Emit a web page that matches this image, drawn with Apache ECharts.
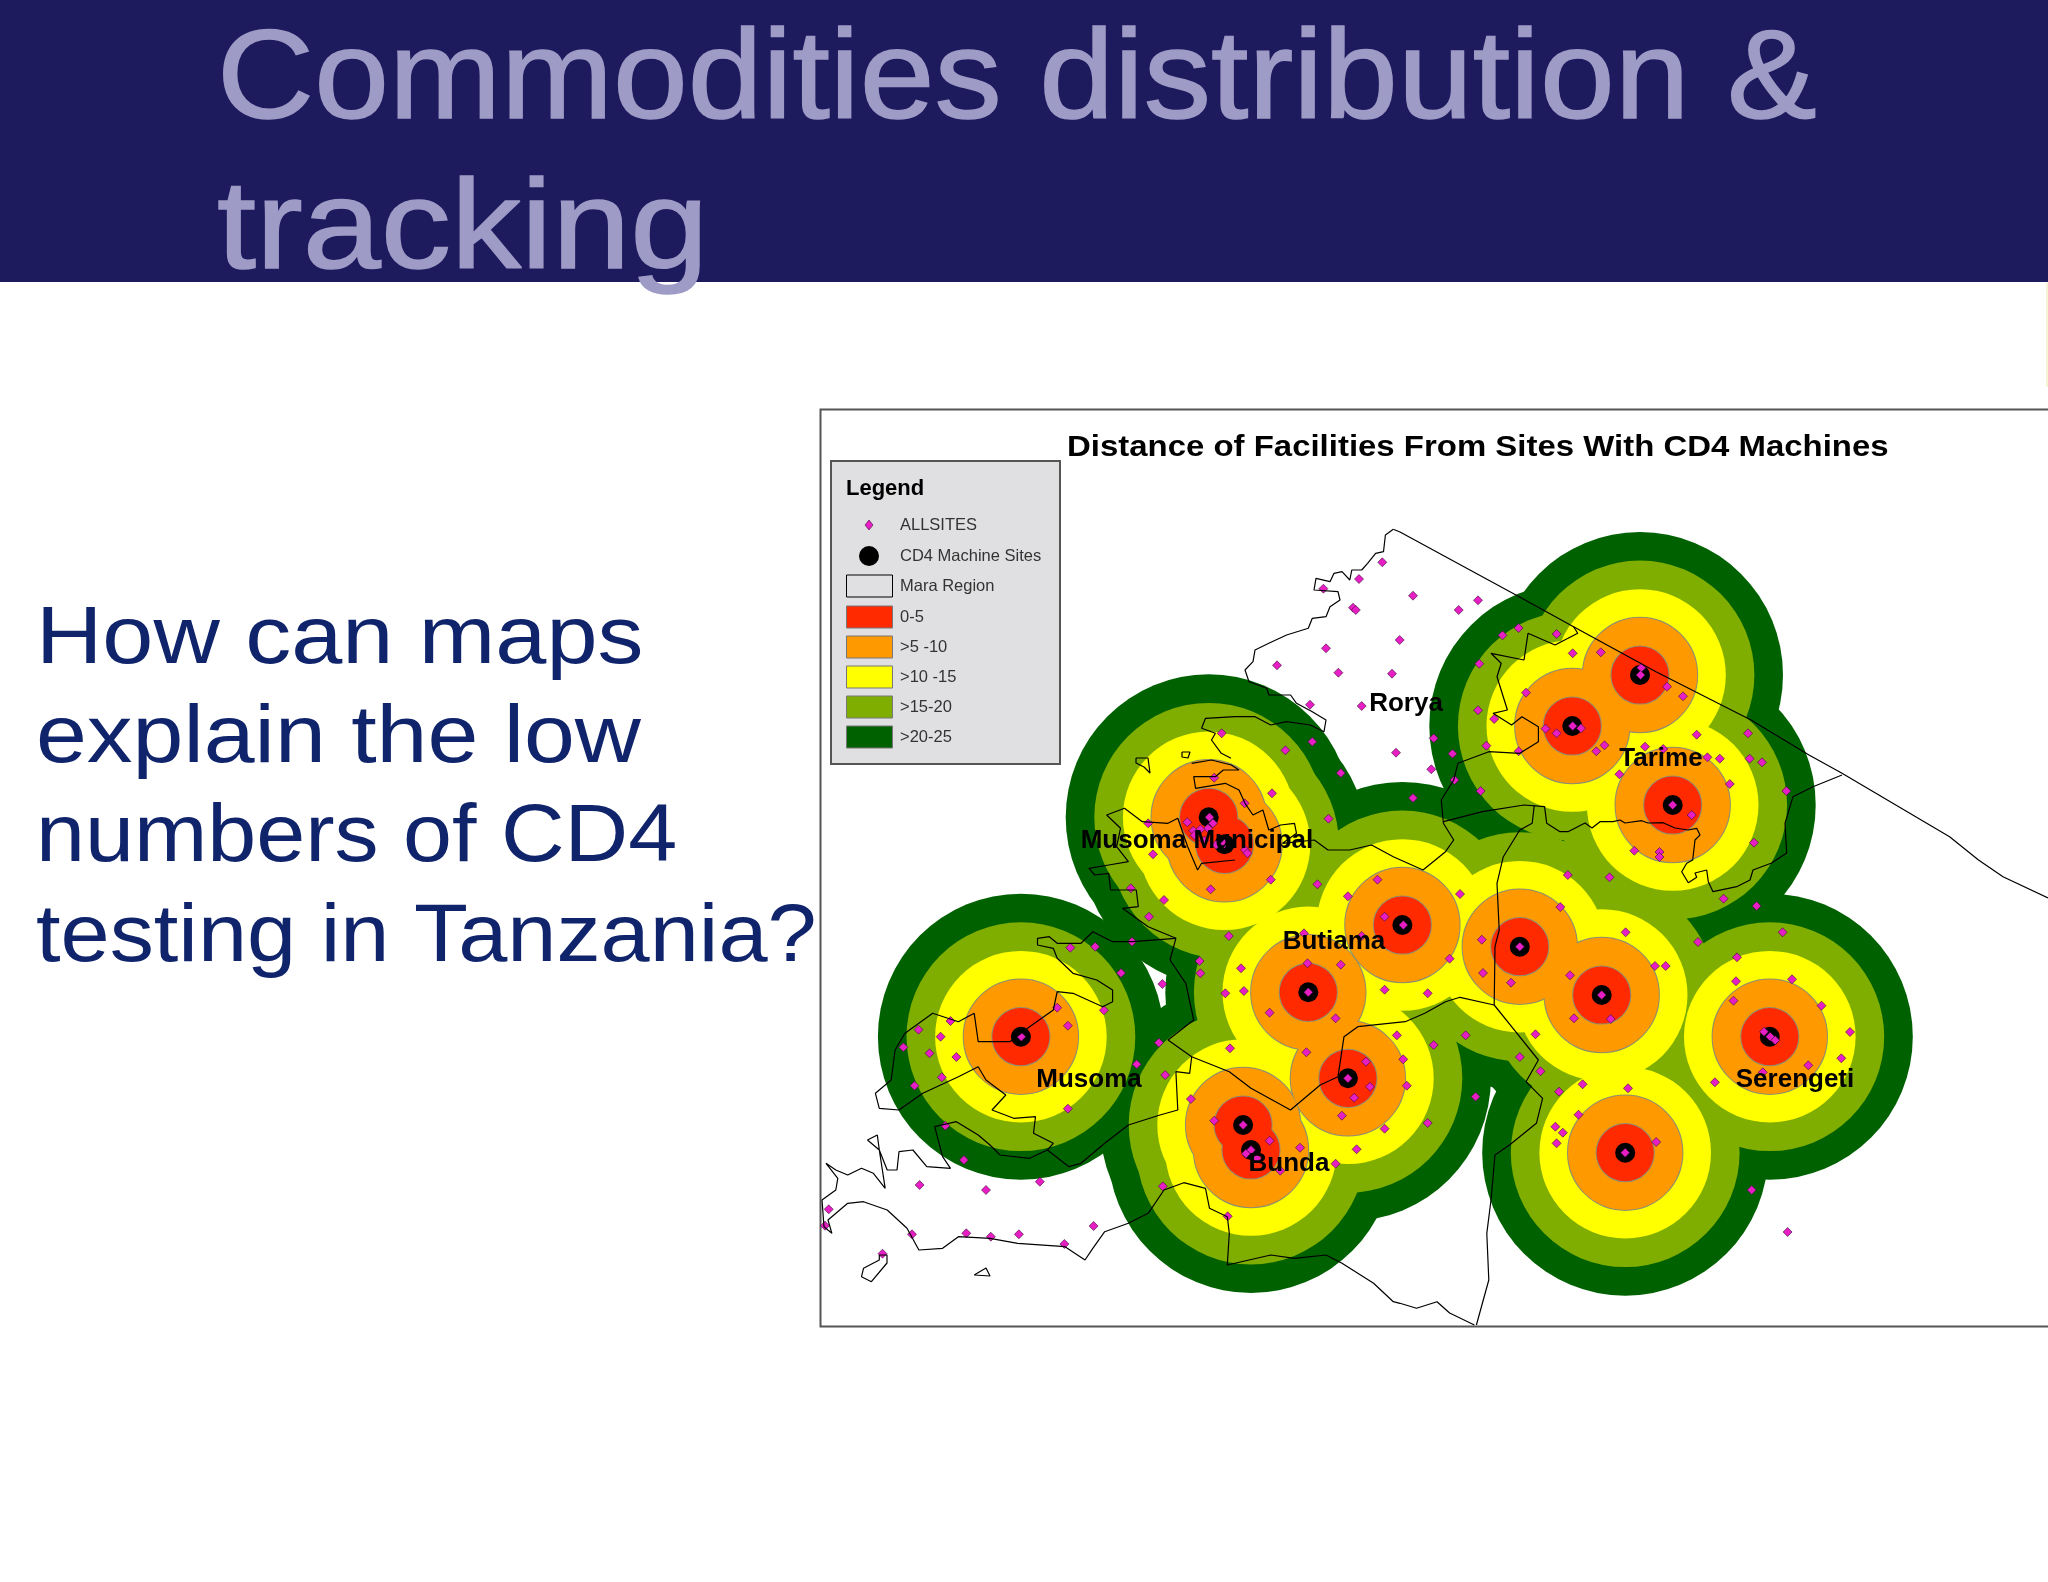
<!DOCTYPE html>
<html>
<head>
<meta charset="utf-8">
<title>Commodities distribution & tracking</title>
<script src="https://cdn.jsdelivr.net/npm/echarts@6/dist/echarts.min.js"></script>
<style>
  html, body { margin:0; padding:0; background:#fff; }
  #chart { width:2048px; height:1582px; }
</style>
</head>
<body>
<div id="chart"></div>
<script>
// ====== text ======
const slideTitle = ['Commodities distribution &', 'tracking'];
const slideText = ['How can maps', 'explain the low', 'numbers of CD4', 'testing in Tanzania?'];
const mapTitle = 'Distance of Facilities From Sites With CD4 Machines';
const legendTitle = 'Legend';
const legendLabels = ['ALLSITES', 'CD4 Machine Sites', 'Mara Region', '0-5', '>5 -10', '>10 -15', '>15-20', '>20-25'];

// ====== map data, in map units ======
const districtLabels = [
  ['Rorya', 1406, 704], ['Tarime', 1661, 759], ['Musoma Municipal', 1197, 841], ['Butiama', 1334, 942],
  ['Musoma', 1089, 1080], ['Bunda', 1289, 1164], ['Serengeti', 1795, 1080]
];

// distance bands in km, nearest first
const bandKm = [5, 10, 15, 20, 25];
const bandColors = ['#ff2a00', '#ff9900', '#ffff00', '#7fae00', '#006100'];

const cd4Sites = [
  [1208.7,817.3],[1224.5,844.3],[1640,675],[1572.3,726],[1672.7,805],[1402.4,925],[1519.8,946.7],[1601.7,995],
  [1308.3,992.3],[1347.9,1078.3],[1243.1,1125],[1251,1150],[1020.9,1036.7],[1769.8,1036.7],[1625.2,1152.7]
];

const allSites = [
  [1382.3,562.3],[1359,579],[1323.4,588.7],[1413,595.7],[1353,607.7],[1355.8,610],[1399.7,640],[1326,648.3],
  [1277,665.3],[1338.4,672.7],[1392,673.7],[1310,704.7],[1361.7,706],[1433.7,738.3],[1396,752.7],[1431.3,769.3],
  [1221.7,733.3],[1312.3,741.7],[1285.4,750.3],[1340.8,773],[1214.2,777.7],[1272,793.3],[1244.7,803.3],[1413,798],
  [1328.5,818.7],[1148.2,823.3],[1187.3,822.3],[1209.5,817.3],[1213,823.3],[1208,828.3],[1200.4,829.3],[1193.3,830.7],
  [1194.5,835.3],[1204.3,840.7],[1216.2,844.7],[1224.5,843.7],[1245,850],[1247.4,853.3],[1153,854.3],[1270.8,879.7],
  [1317.4,884.3],[1210.7,889.3],[1130.8,888.3],[1164,900],[1149,916.7],[1347.9,896.3],[1377.5,879.7],[1384.6,916.7],
  [1458.7,610],[1478,600.3],[1518.6,628],[1502.5,635.3],[1556.6,634],[1572.7,653.3],[1600.8,652.3],[1479.3,663.7],
  [1526,692.7],[1641.3,667.7],[1640.5,675],[1667,686.7],[1683,696.3],[1478,710.3],[1494.2,719],[1545.5,728.7],
  [1556.6,733.3],[1572.7,726],[1581,728.3],[1486.4,745.7],[1518.6,751.3],[1596.3,751.3],[1604.5,745.3],[1452.5,753.7],
  [1645,746.7],[1663.2,749],[1696.7,734.7],[1748,733.3],[1707.4,757.3],[1719.8,758.7],[1749.6,758.7],[1762,762.3],
  [1619.4,774.3],[1454.5,780],[1729.8,784],[1480.6,791],[1786.4,791],[1672.7,805],[1691.7,815],[1754,842.7],
  [1634.3,850.7],[1659.5,852],[1659.5,857],[1567.8,875],[1609.5,877.3],[1723.6,898.7],[1756.6,906],[1460,894],
  [1560.3,907],[1625.6,932.3],[1782.6,932.3],[1698,942],[1481.8,939.7],[1737,957.3],[1655,966],[1665.7,966],
  [1519.8,946.7],[1449.6,958.7],[1483,973],[1511,982.7],[1570,975.3],[1403.3,925],[1427.7,993.3],[1601.7,995],
  [1736,981.3],[1792,979.3],[1733.5,1000.7],[1821.5,1005.7],[1574,1018.3],[1610.7,1019],
  [1228.9,936],[1304,933.3],[1361.7,936],[1095.2,946.7],[1070.3,947.7],[1132,941.7],[1121,973],[1199.6,961],
  [1200.4,973.3],[1162.4,984],[1241,968.3],[1307.5,963.3],[1340.8,964.7],[1225.3,993.3],[1243.9,991],[1308.3,992.3],
  [1384.6,989.7],[1057.2,1007.7],[1103.9,1010.3],[950.5,1021],[1067.9,1025.7],[918.5,1029.7],[940.6,1036.7],[1021.3,1036.7],
  [903.4,1047.3],[929.5,1053.3],[956.4,1057],[1158.9,1042.7],[1269.6,1012.7],[1335.6,1018.3],[1396.9,1035.3],[1433.7,1045],
  [1230,1048.3],[1306.4,1052.3],[1366,1061.7],[1403.2,1059.3],[1136.7,1064.3],[1165.2,1075],[1347.9,1078.3],[1370,1086.7],
  [1406.8,1085.7],[941.8,1077.3],[914.5,1085.7],[1190.9,1099],[1354.2,1097.7],[1067.9,1108.7],[1214.2,1120.7],[1341.9,1115.7],
  [1243.1,1125],[1427.7,1123],[1384.6,1128.7],[945.3,1125.7],[1269.6,1140.7],[1300,1147.7],[1356.6,1149.3],[1251,1150],
  [1245.9,1153.7],[1256.9,1158.3],[963.9,1160],[1280.3,1170.7],[1335.6,1163.7],[1039.8,1181.7],[919.6,1185],[986,1190],
  [1162.8,1186.3],[1227.7,1216.3],[828.7,1209.3],[825,1225.7],[1093.6,1226],[912,1234.3],[966.3,1233.3],[1018.9,1234.3],
  [990.8,1236.7],[1064.4,1244],[882.5,1253.7],
  [1465.7,1035.3],[1535.5,1034.3],[1519.8,1057],[1540.5,1071.3],[1559,1091.7],[1582.6,1084.3],[1628,1088.3],[1475.6,1096.7],
  [1578.5,1114.7],[1555.4,1126.7],[1562.8,1132.7],[1556.6,1143.3],[1656.2,1142],[1625.2,1152.7],[1764,1031.7],[1770.2,1036.7],
  [1775.2,1040.3],[1850,1032],[1841.3,1058.3],[1808.3,1065.3],[1762.8,1072.3],[1714.9,1082.3],[1751.7,1190],[1787.6,1232]
];

// ====== boundaries ======
const northEastLine = [
  [1393.3,529.3],[1400,532],[1517.8,596],[1573.6,626.7],[1656,671.7],[1751,720],[1809,755],[1842,773.3],
  [1949.6,836.7],[1978.5,860],[2003,876.7],[2048,898]
];
const lakeShoreNorth = [
  [1393.3,529.3],[1385.4,535],[1383.5,551.7],[1375.6,553.3],[1367.6,563.3],[1361.7,570],[1351.8,570],[1349.8,580],
  [1342,571.7],[1334,573.3],[1330,581.7],[1316,578.3],[1314,590],[1338,591.7],[1340,600],[1330,606.7],[1326,616.7],
  [1312.3,618.3],[1308.3,628.3],[1286.6,635],[1268.8,643.3],[1255,650],[1253,661.7],[1245,670],[1249,681.7],
  [1266.8,688.3],[1268.8,695],[1290.6,695],[1296.5,703.3],[1312.3,711.7],[1326,720],[1324,731.7],[1310.3,725],
  [1286.6,721.7],[1270.8,725],[1255,716.7],[1235,716.7],[1205.5,718.3],[1201.6,728.3],[1215.4,733.3],[1211.5,740],
  [1221.3,753.3],[1231,758.3]
];
const municipalLine = [
  [1191.7,763.3],[1211.5,760],[1231.2,765],[1239,770],[1223.3,770],[1215.4,776.7],[1193.7,776.7],[1195.6,788.3],
  [1225.3,783.3],[1239,790],[1245,803.3],[1253,815],[1262.9,810],[1268.8,830],[1280.7,825],[1294.5,823.3],[1296.5,833.3],
  [1282.6,843.3],[1314.3,840],[1328,850],[1349.8,850],[1371.6,845],[1393.3,856.7],[1423,870],[1445.5,851.7],[1453.7,840],
  [1443.4,823.3],[1441.3,800],[1453.7,780],[1457.9,763.3],[1488.8,751.7],[1519.8,753.3],[1538.4,741.7],[1538.4,726.7],
  [1521.9,716.7],[1511.6,725],[1493,713.3],[1507.4,710],[1497,676.7],[1501.2,663.3],[1491,653.3],[1524,660],[1528,633.3],
  [1555,645],[1577.7,633.3],[1573.6,626.7]
];
const tarimeSouthLine = [
  [1443.4,821.7],[1482.6,811.7],[1524,805],[1544.6,806.7],[1546.7,823.3],[1560,831.7],[1568,831.7],[1585,823],[1592,828],
  [1600,821.7],[1613,821.7],[1620,820],[1625,823],[1641.7,820.7],[1648,823],[1663,822.7],[1675,828],[1688,830],[1696.7,828.3],
  [1700,835],[1695,840],[1692.7,860],[1686.7,863.3],[1681.7,871.7],[1688.3,882.7],[1696.7,877.3],[1695,873],[1706.7,870],
  [1708.3,881.7],[1713,891.7],[1736.7,886.7],[1750,880],[1753,870],[1771.7,863],[1786.7,853],[1785,823.3],[1790,806.7],
  [1793,796.7],[1813,786.7],[1842,775]
];
const serengetiWestLine = [
  [1534.3,805],[1532.2,823.3],[1519.8,830],[1503.3,856.7],[1497,883.3],[1499.2,930],[1495,946.7],[1494.2,1005],
  [1511.6,1026.7],[1538.4,1060],[1526,1081.7],[1542.6,1098.3],[1536.4,1123.3],[1509.5,1145],[1495,1155],[1491,1200],
  [1486.8,1233.3],[1488.8,1280],[1476.4,1325]
];
const butiamaSouthLine = [
  [1191.7,1056.7],[1229.3,1071.7],[1251,1088.3],[1290.5,1110],[1320.2,1085],[1338,1076.7],[1344,1036.7],[1357.8,1026.7],
  [1405.2,1021.7],[1424.8,1013.3],[1445.5,1001.7],[1460,997.3],[1494.2,1005]
];
const lakeShoreSouth = [
  [1474.4,1325],[1449.6,1313],[1437,1301.7],[1416.5,1308.3],[1400,1303.3],[1393.3,1301.7],[1373.6,1283.3],[1342,1263.3],
  [1326,1255],[1294.5,1258.3],[1270.8,1255],[1227.3,1265],[1229.3,1233.3],[1227.3,1216.7],[1209.5,1208.3],[1205.5,1188.3],
  [1183.8,1182.7],[1164,1190],[1148.2,1213.3],[1128.4,1223.3],[1104.7,1231.7],[1092.8,1248.3],[1085,1260],[1065,1246.7],
  [1017.7,1243.3],[990,1238.3],[958.4,1236.7],[942.6,1248.3],[918.9,1250],[907,1228.3],[887.2,1210],[863.5,1201.7],
  [847.7,1203.3],[828,1220],[831.9,1233.3],[824,1226.7],[822,1200],[835.8,1190],[837.8,1178.3],[826,1163.3],[835.8,1170],
  [847.7,1175],[861.5,1168.3],[873.4,1173.3],[885.2,1188.3],[879.3,1150],[867.5,1140],[877.3,1135],[879.3,1150],[887.2,1170],
  [897,1170],[899,1151.7],[912.9,1150],[926.8,1166.7],[950.5,1168.3],[942.6,1156.7],[934.7,1126.7],[956.4,1121.7],
  [978.2,1135],[990,1145],[1000,1155],[1029.6,1158.3],[1047.4,1150],[1069,1166.7],[1081,1163.3],[1104.7,1143.3],
  [1128.4,1125],[1160,1115],[1177.8,1110],[1175.9,1071.7],[1189.7,1073.3],[1191.7,1056.7],[1168,1040],[1193.7,1020],
  [1185.8,983.3],[1170,960],[1175.9,938.3],[1148.2,926.7],[1122.5,908.3],[1138.3,906.7],[1136.3,890],[1110.6,890],
  [1108.7,873.3],[1094.8,875],[1088.9,868.3],[1108.7,865],[1128.4,861.7],[1116.6,846.7],[1120.5,828.3],[1106.7,815],
  [1124.5,808.3],[1142.3,821.7],[1168,823.3],[1177.8,818.3],[1187.7,846.7],[1197.6,870],[1201.6,863.3],[1235,860]
];
const musomaLine = [
  [1175.9,938.3],[1132.4,941.7],[1112.6,941.7],[1092.8,931.7],[1081,943.3],[1057.2,943.3],[1049.3,936.7],[1037.5,938.3],
  [1037.5,945],[1053.3,948.3],[1057.2,958.3],[1073,973.3],[1096.8,980],[1112.6,990],[1112.6,1001.7],[1102.7,1006.7],
  [1073,993.3],[1057.2,991.7],[1053.3,1010],[1029.6,1026.7],[1009.8,1041.7],[978.2,1041.7],[974.2,1013.3],[958.4,1021.7],
  [932.7,1013.3],[905,1033.3],[895.1,1050],[891.2,1080],[875.4,1093.3],[879.3,1108.3],[899,1110],[922.8,1093.3],
  [958.4,1076.7],[978.2,1066.7],[986,1080],[1005.8,1095],[992,1110],[1013.7,1118.3],[1035.5,1116.7],[1033.5,1133.3],
  [1053.3,1143.3],[1047.4,1150]
];
const islandA = [[879.3,1255],[887,1255],[887,1263],[871.4,1281.7],[861.5,1276.7],[863.5,1268.3],[879.3,1260],[879.3,1255]];
const islandB = [[974.2,1275],[986,1268],[990,1276],[974.2,1275]];
const islandC = [[1136,758],[1148,758],[1150,773],[1144,767],[1136,763],[1136,758]];
const islandD = [[1182,752],[1190,752],[1188,758],[1182,757],[1182,752]];
const boundaries = [
  northEastLine, lakeShoreNorth, municipalLine, tarimeSouthLine, serengetiWestLine, butiamaSouthLine,
  lakeShoreSouth, musomaLine, islandA, islandB, islandC, islandD
];

// ====== series ======
const PX_PER_KM = 5.72;

function bandLayer(km, color, border){
  const size = km * PX_PER_KM * 2;
  return {
    type:'scatter', data:cd4Sites, symbol:'circle', symbolSize:size, silent:true, clip:true,
    itemStyle:{ color, opacity:1, borderColor:border || color, borderWidth:border ? 2 : 0 }
  };
}

const series = [];
// far bands first so nearer ones paint over them
for(let i = bandKm.length - 1; i >= 0; i--){
  if(i < 2) series.push(bandLayer(bandKm[i], bandColors[i], '#8f8f70'));
  series.push(bandLayer(bandKm[i], bandColors[i]));
}
boundaries.forEach(b => series.push({
  type:'line', data:b, showSymbol:false, silent:true, clip:true,
  lineStyle:{ color:'#000', width:1.2 }
}));
series.push({
  type:'scatter', data:cd4Sites, symbol:'circle', symbolSize:20, silent:true,
  itemStyle:{ color:'#000', opacity:1 }
});
series.push({
  type:'scatter', data:allSites, symbol:'diamond', symbolSize:9, silent:true,
  itemStyle:{ color:'#e61ec4', opacity:1, borderColor:'#3a0a35', borderWidth:0.6 }
});
series.push({
  type:'scatter', data:districtLabels.map(d => ({ name:d[0], value:[d[1], d[2]] })), symbolSize:0, silent:true, z:6,
  itemStyle:{ opacity:1 },
  label:{
    show:true, position:'inside', formatter:'{b}', color:'#000', opacity:1,
    fontFamily:'Liberation Sans', fontWeight:'bold', fontSize:26
  }
});

// ====== slide furniture + legend ======
const graphics = [
  { type:'rect', shape:{ x:0, y:0, width:2048, height:282 }, style:{ fill:'#1e1a5e' }, z:0 },
  { type:'rect', shape:{ x:2046, y:283, width:2, height:104 }, style:{ fill:'#f5f5d5' }, z:0 },
  { type:'rect', shape:{ x:820.5, y:409.5, width:1230, height:917 }, style:{ fill:'none', stroke:'#555', lineWidth:2 }, z:0 },
  { type:'rect', shape:{ x:831, y:461, width:229, height:303 }, style:{ fill:'#e0e0e2', stroke:'#555', lineWidth:2 }, z:3 }
];
// the slide's face is wider than Liberation Sans, so each line is stretched to its measured width
const titleStretch = [1.059, 1.105];
slideTitle.forEach((t, i) => graphics.push({
  type:'text', z:10, x:217, y:146.5 + i * 150, scaleX:titleStretch[i],
  style:{ x:0, y:0, text:t, fill:'#9e9bc6', stroke:'#9e9bc6', lineWidth:1.5, verticalAlign:'bottom',
    font:'127px "Liberation Sans"' }
}));
const textStretch = [1.12, 1.115, 1.074, 1.077];
slideText.forEach((t, i) => graphics.push({
  type:'text', z:10, x:36, y:681 + i * 99.3, scaleX:textStretch[i],
  style:{ x:0, y:0, text:t, fill:'#10246c', verticalAlign:'bottom', font:'82px "Liberation Sans"' }
}));
graphics.push({ type:'text', z:5, x:1067, y:447.5, scaleX:1.098,
  style:{ x:0, y:0, text:mapTitle, fill:'#000', verticalAlign:'middle', font:'bold 30px "Liberation Sans"' } });
graphics.push({ type:'text', z:5, style:{ x:846, y:489, text:legendTitle, fill:'#000',
  verticalAlign:'middle', font:'bold 22px "Liberation Sans"' } });
const legendRowY = [525, 556, 586, 617, 647, 677, 707, 737];
const legendFills = ['#e0e0e2'].concat(bandColors);
legendLabels.forEach((t, i) => {
  graphics.push({ type:'text', z:5, style:{ x:900, y:legendRowY[i], text:t, fill:'#333',
    verticalAlign:'middle', font:'16.5px "Liberation Sans"' } });
  if(i >= 2){
    graphics.push({ type:'rect', z:5, shape:{ x:846.5, y:legendRowY[i] - 11, width:46, height:22 },
      style:{ fill:legendFills[i - 2], stroke:i === 2 ? '#000' : '#777', lineWidth:1 } });
  }
});
graphics.push({ type:'circle', z:5, shape:{ cx:869, cy:556, r:10 }, style:{ fill:'#000' } });
graphics.push({ type:'polygon', z:5, shape:{ points:[[869,520],[873,525],[869,530],[865,525]] },
  style:{ fill:'#e61ec4', stroke:'#3a0a35', lineWidth:0.6 } });

const chart = echarts.init(document.getElementById('chart'), null, { renderer:'canvas' });
chart.setOption({
  animation:false,
  backgroundColor:'#fff',
  grid:{ left:820, top:409, width:1228, height:918 },
  xAxis:{ type:'value', min:820, max:2048, show:false },
  yAxis:{ type:'value', min:409, max:1327, inverse:true, show:false },
  graphic:graphics,
  series
});
</script>
</body>
</html>
